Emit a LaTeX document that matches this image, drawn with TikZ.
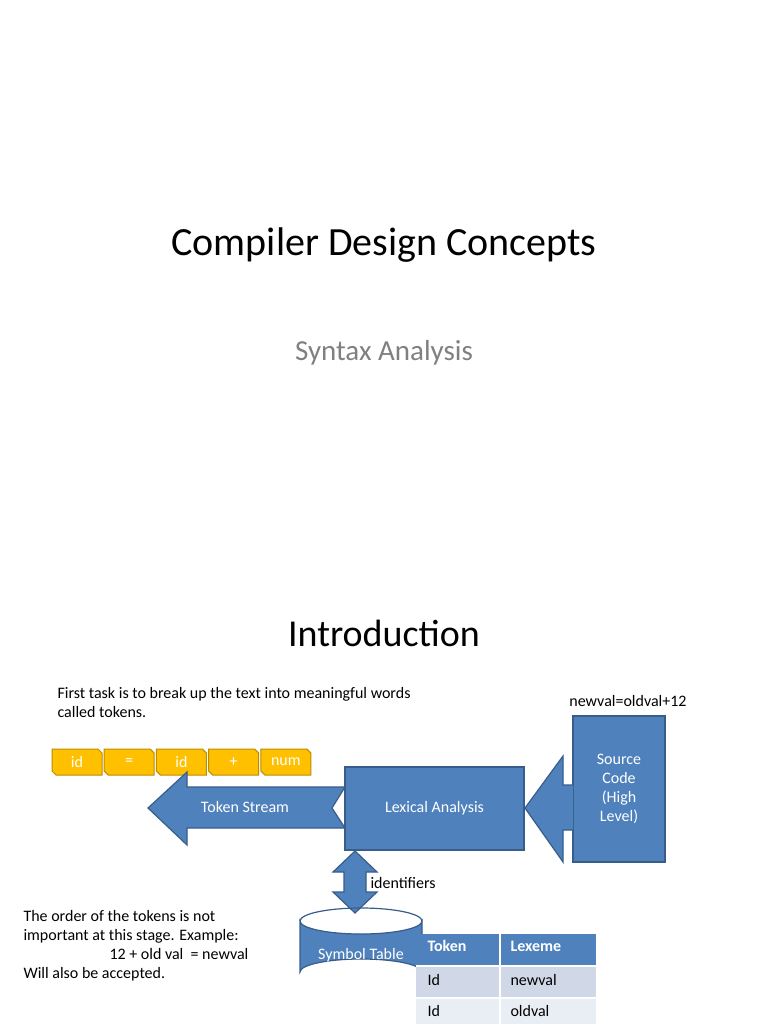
\documentclass[tikz,border=0pt]{standalone}
\usepackage{fontspec}
\setmainfont{Carlito}
\usetikzlibrary{shapes.geometric}
\definecolor{blu}{HTML}{4F81BD}
\definecolor{bld}{HTML}{385D8A}
\definecolor{gold}{HTML}{FFC000}
\definecolor{goldd}{HTML}{BC8C00}
\definecolor{rowa}{HTML}{D0D8E8}
\definecolor{rowb}{HTML}{E9EDF4}
\begin{document}
\begin{tikzpicture}[x=1pt,y=-1pt,
  shp/.style={fill=blu,draw=bld,line width=1.2pt},
  wt/.style={text=white,font=\fontsize{16}{19}\selectfont,align=center},
  bt/.style={font=\fontsize{16}{19}\selectfont},
  tok/.style={fill=gold,draw=goldd,line width=1pt}]
\useasboundingbox (0,0) rectangle (768,1024);
\fill[white] (0,0) rectangle (768,1024);
\node (title) at (384,245) {\fontsize{40}{46}\selectfont Compiler Design Concepts};
\node[text=black!50] (sub) at (384,353) {\fontsize{29}{34}\selectfont Syntax Analysis};
\node (intro) at (384,633) {\fontsize{38}{44}\selectfont Introduction};
\node[bt,anchor=north west,align=left] (first) at (54,684) {First task is to break up the text into meaningful words\\called tokens.};
\node[bt] (nv) at (628,701) {newval=oldval+12};
% tokens
\foreach \t [count=\i from 0] in {id,=,id,+,num}{
  \pgfmathsetmacro\xa{52+\i*52.2}
  \draw[tok] (\xa,749) -- (\xa+46,749) -- (\xa+50,753) -- (\xa+50,775) -- (\xa+4,775) -- (\xa,771) -- cycle;
  \node[wt] (t\i) at (\xa+25,762) {\t};
}
% token stream arrow
\draw[shp] (345,787) -- (187,787) -- (187,772) -- (148,808) -- (187,845) -- (187,828) -- (345,828) -- (332,808) -- cycle;
\node[wt] (ts) at (245,807) {Token Stream};
% lexical
\node[shp,minimum width=179pt,minimum height=83pt,wt] (lex) at (434.5,808.5) {Lexical Analysis};
% source
\node[shp,minimum width=92pt,minimum height=146pt,wt] (src) at (619,789) {Source\\Code\\(High\\Level)};
\draw[shp] (573,785) -- (563,785) -- (563,756) -- (525,808) -- (563,862) -- (563,830) -- (573,830);
% double arrow
\draw[shp] (355,851) -- (377,872) -- (366,872) -- (366,892) -- (377,892) -- (355,913) -- (333,892) -- (344,892) -- (344,872) -- (333,872) -- cycle;
\node[bt,anchor=west] (idf) at (367,883) {identifiers};
% cylinder
\draw[shp] (300,921) -- (300,972) arc[start angle=180,end angle=360,x radius=61,y radius=13] -- (422,921) arc[start angle=0,end angle=180,x radius=61,y radius=13] -- cycle;
\draw[bld,line width=1.2pt] (300,921) arc[start angle=180,end angle=360,x radius=61,y radius=13];
\node[wt] (sym) at (361,955) {Symbol Table};
% table
\fill[blu] (416,934) rectangle (596,966);
\fill[rowa] (416,966) rectangle (596,998);
\fill[rowb] (416,998) rectangle (596,1024);
\draw[white,line width=1.5pt] (416,966) -- (596,966) (416,998) -- (596,998) (500,934) -- (500,1024);
\node[wt,anchor=west,font=\bfseries\fontsize{16}{19}\selectfont] (h1) at (424,946) {Token};
\node[wt,anchor=west,font=\bfseries\fontsize{16}{19}\selectfont] (h2) at (507,946) {Lexeme};
\node[bt,anchor=west] (c1) at (424,980) {Id};
\node[bt,anchor=west] (c2) at (507,980) {newval};
\node[bt,anchor=west] (c3) at (424,1011) {Id};
\node[bt,anchor=west] (c4) at (507,1011) {oldval};
% left text
\node[bt,anchor=north west,align=left] (ord) at (20,907) {The order of the tokens is not\\important at this stage. Example:\\\hspace*{86pt}12 + old val\ \ = newval\\Will also be accepted.};
\end{tikzpicture}
\end{document}
